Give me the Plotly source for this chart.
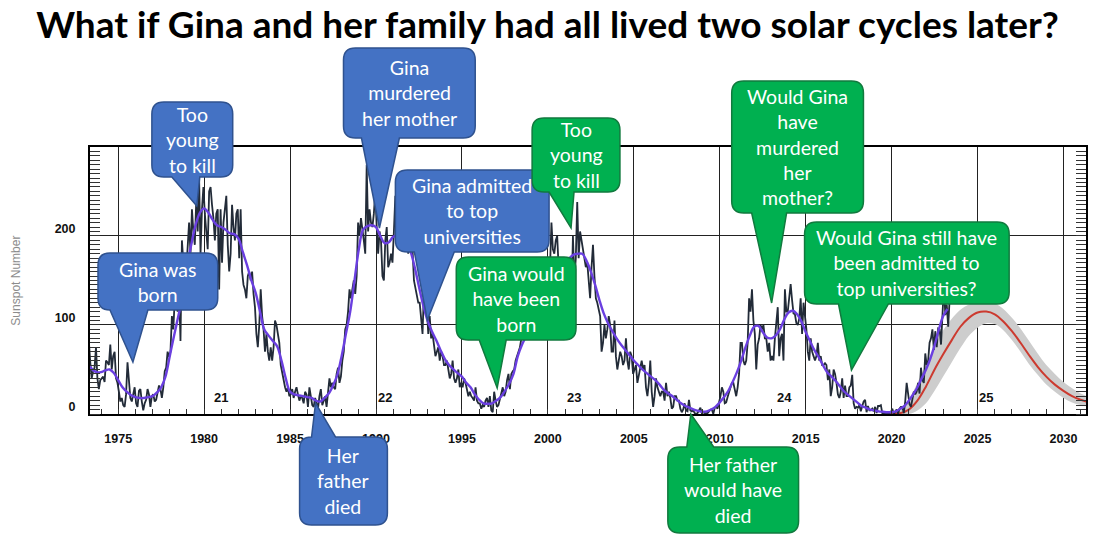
import plotly.graph_objects as go

# ---------------- data ----------------
monthly_start_year = 1973
monthly_ssn = [
    63, 68, 55, 82, 58, 40, 48, 52, 75, 40, 28, 38,        # 1973
    40, 42, 36, 60, 58, 55, 78, 50, 65, 70, 40, 35,        # 1974
    25, 14, 18, 10, 8, 22, 58, 32, 18, 14, 22, 30,         # 1975
    12, 8, 26, 28, 14, 4, 12, 16, 28, 22, 8, 20,           # 1976
    22, 14, 16, 26, 32, 28, 18, 30, 48, 52, 70, 64,        # 1977
    70, 110, 95, 130, 125, 115, 140, 82, 195, 170, 150, 160,   # 1978
    190, 215, 180, 230, 205, 190, 240, 205, 265, 180, 230, 255,  # 1979
    225, 205, 185, 250, 255, 235, 220, 195, 225, 230, 140, 230,  # 1980
    170, 215, 235, 245, 190, 160, 180, 235, 210, 195, 225, 230,  # 1981
    175, 230, 160, 145, 140, 130, 155, 160, 150, 160, 135, 120,  # 1982
    90, 75, 100, 140, 110, 95, 70, 90, 70, 60, 75, 60,     # 1983
    75, 105, 100, 90, 80, 55, 45, 40, 30, 25, 30, 20,      # 1984
    22, 28, 18, 25, 30, 22, 15, 20, 18, 12, 25, 22,        # 1985
    8, 30, 18, 10, 8, 18, 12, 6, 20, 28, 10, 15,           # 1986
    20, 8, 25, 40, 30, 35, 30, 28, 45, 52, 35, 42,         # 1987
    60, 70, 95, 100, 115, 140, 130, 140, 150, 135, 155, 215,   # 1988
    200, 220, 210, 195, 180, 280, 205, 230, 215, 210, 225, 250,  # 1989
    210, 180, 205, 195, 155, 150, 195, 210, 165, 170, 180, 170,  # 1990
    205, 245, 210, 195, 185, 240, 220, 200, 205, 215, 180, 200,  # 1991
    190, 185, 150, 140, 135, 125, 125, 110, 90, 140, 125, 120,   # 1992
    90, 110, 85, 90, 75, 65, 70, 75, 60, 70, 65, 55,       # 1993
    55, 60, 50, 40, 45, 60, 40, 35, 40, 50, 30, 35,        # 1994
    30, 40, 35, 25, 20, 25, 20, 18, 15, 30, 15, 12,        # 1995
    12, 6, 10, 8, 15, 18, 8, 20, 4, 2, 25, 15,             # 1996
    8, 10, 18, 25, 30, 20, 25, 38, 45, 28, 45, 48,         # 1997
    50, 60, 65, 70, 75, 85, 100, 130, 115, 95, 110, 120,   # 1998
    120, 145, 110, 95, 135, 165, 150, 145, 130, 150, 155, 130,   # 1999
    140, 165, 215, 185, 180, 195, 200, 165, 160, 165, 150, 160,  # 2000
    145, 120, 165, 160, 125, 200, 150, 175, 238, 175, 205, 195,  # 2001
    190, 175, 165, 170, 150, 130, 165, 190, 155, 130, 125, 115,  # 2002
    110, 70, 80, 100, 85, 95, 110, 100, 70, 70, 105, 65,   # 2003
    50, 60, 70, 65, 55, 60, 85, 60, 50, 70, 65, 45,        # 2004
    50, 55, 35, 45, 55, 60, 50, 55, 30, 20, 35, 60,        # 2005
    25, 8, 20, 40, 30, 25, 20, 25, 25, 15, 35, 20,         # 2006
    25, 18, 6, 8, 20, 20, 15, 15, 6, 2, 5, 12,             # 2007
    4, 3, 16, 4, 3, 4, 1, 0, 1, 4, 7, 1,                   # 2008
    2, 1, 1, 1, 3, 5, 5, 0, 7, 8, 6, 12,                   # 2009
    20, 30, 25, 12, 13, 19, 25, 30, 35, 35, 25, 20,        # 2010
    30, 45, 80, 80, 60, 55, 60, 80, 130, 115, 140, 105,    # 2011
    90, 50, 78, 85, 100, 95, 100, 85, 85, 70, 80, 60,      # 2012
    65, 60, 85, 105, 120, 65, 85, 90, 60, 140, 115, 115,   # 2013
    130, 146, 128, 113, 112, 102, 100, 107, 130, 90, 125, 110,   # 2014
    95, 70, 60, 85, 70, 65, 60, 65, 80, 60, 65, 55,        # 2015
    55, 57, 55, 38, 50, 20, 30, 50, 45, 35, 22, 18,        # 2016
    25, 40, 18, 32, 20, 20, 30, 32, 44, 12, 6, 8,          # 2017
    7, 10, 3, 9, 14, 16, 2, 9, 4, 4, 6, 3,                 # 2018
    8, 1, 9, 9, 10, 1, 1, 0, 1, 0, 1, 2,                   # 2019
    6, 0, 2, 5, 0, 6, 8, 8, 1, 14, 35, 22,                 # 2020
    11, 8, 18, 25, 22, 25, 35, 23, 52, 38, 35, 68,         # 2021
    55, 60, 80, 85, 95, 72, 93, 75, 96, 95, 78, 113,       # 2022
    144, 111, 123, 98, 137, 160,                           # 2023
]

smoothed_start_year = 1973.0   # quarterly values
smoothed_ssn = [
    62, 56, 50, 47,      # 1973
    47, 49, 50, 46,      # 1974
    38, 30, 25, 21,      # 1975
    19, 18, 18, 19,      # 1976
    20, 24, 30, 42,      # 1977
    65, 88, 110, 132,    # 1978
    165, 190, 212, 226,  # 1979
    231, 226, 218, 212,  # 1980
    210, 207, 203, 202,  # 1981
    197, 182, 167, 150,  # 1982
    136, 115, 95, 88,    # 1983
    82, 76, 60, 40,      # 1984
    25, 22, 21, 20,      # 1985
    19, 18, 15, 14,      # 1986
    18, 23, 32, 44,      # 1987
    65, 90, 115, 150,    # 1988
    185, 207, 211, 212,  # 1989
    210, 200, 192, 193,  # 1990
    199, 200, 196, 192,  # 1991
    183, 165, 143, 122,  # 1992
    105, 93, 83, 72,     # 1993
    62, 55, 50, 46,      # 1994
    42, 35, 30, 22,      # 1995
    16, 12, 11.5, 12,    # 1996
    15, 19, 26, 34,      # 1997
    45, 65, 78, 88,      # 1998
    100, 112, 125, 140,  # 1999
    155, 168, 174, 172,  # 2000
    170, 175, 179, 180,  # 2001
    180, 172, 160, 145,  # 2002
    128, 113, 102, 93,   # 2003
    85, 78, 72, 66,      # 2004
    60, 55, 50, 46,      # 2005
    42, 38, 33, 27,      # 2006
    23, 20, 16, 12,      # 2007
    9, 7, 5, 3.5,        # 2008
    2.5, 3, 5, 8,        # 2009
    13, 19, 26, 36,      # 2010
    47, 60, 75, 88,      # 2011
    98, 99, 92, 86,      # 2012
    85, 88, 95, 106,     # 2013
    114, 116, 112, 104,  # 2014
    92, 82, 72, 64,      # 2015
    55, 47, 42, 37,      # 2016
    31, 25, 21, 17,      # 2017
    13, 9, 7, 5,         # 2018
    4, 3, 2.5, 2,        # 2019
    2, 3, 6, 9,          # 2020
    15, 22, 30, 40,      # 2021
    50, 62, 77, 95,      # 2022
    110, 118,            # 2023
]

pred_years = [2019.9, 2020.5, 2021.0, 2021.5, 2022.0, 2022.5, 2023.0, 2023.5,
              2024.0, 2024.5, 2025.0, 2025.5, 2026.0, 2026.5, 2027.0, 2027.5,
              2028.0, 2028.5, 2029.0, 2029.5, 2030.0, 2030.5, 2031.0, 2031.5]
pred_mid = [0, 1, 5, 15, 31, 50, 67, 83, 98, 108, 114, 115,
            112, 104, 93, 80, 66, 53, 42, 33, 26, 20, 16, 13]
pred_high = [0, 6, 16, 35, 55, 76, 94, 107, 117, 123, 126, 126,
             124, 118, 108, 96, 82, 68, 55, 45, 36, 29, 23, 19]
pred_low = [0, 0, 0, 4, 12, 26, 42, 58, 74, 88, 97, 102,
            101, 94, 83, 70, 56, 44, 33, 25, 18, 13, 10, 8]

cycle_labels = ["21", "22", "23", "24", "25"]
cycle_label_years = [1981.0, 1990.55, 2001.5, 2013.75, 2025.5]
cycle_label_value = 19

x_tick_years = [1975, 1980, 1985, 1990, 1995, 2000, 2005, 2010, 2015, 2020, 2025, 2030]
y_tick_values = [0, 100, 200]

title_text = "What if Gina and her family had all lived two solar cycles later?"

# ---------------- layout geometry ----------------
W, H = 1095, 547
PL, PR, PT, PB = 90, 1088, 147, 414   # plot area in pixels


def X(px):
    return (px - PL) / (PR - PL)


def Y(py):
    return (PB - py) / (PB - PT)


BLUE, BLUE_EDGE = "#4472C4", "#2F528F"
GREEN, GREEN_EDGE = "#00B050", "#117A3E"

# text, fill, edge, box (x0,y0,x1,y1), tail side, tail base (b0,b1), tip (tx,ty)
callouts = [
    ("Too<br>young<br>to kill", BLUE, BLUE_EDGE, (152, 102, 233, 177), "bottom", (172, 200), (197, 206)),
    ("Gina was<br>born", BLUE, BLUE_EDGE, (98, 253, 218, 310), "bottom", (110, 148), (133, 362)),
    ("Gina<br>murdered<br>her mother", BLUE, BLUE_EDGE, (344, 48, 476, 138), "bottom", (362, 400), (380, 228)),
    ("Gina admitted<br>to top<br>universities", BLUE, BLUE_EDGE, (396, 170, 550, 252), "bottom", (415, 455), (428, 320)),
    ("Her<br>father<br>died", BLUE, BLUE_EDGE, (300, 437, 388, 525), "top", (312, 336), (316, 403)),
    ("Gina would<br>have been<br>born", GREEN, GREEN_EDGE, (457, 257, 577, 340), "bottom", (480, 507), (498, 388)),
    ("Too<br>young<br>to kill", GREEN, GREEN_EDGE, (533, 118, 621, 192), "bottom", (550, 575), (572, 228)),
    ("Would Gina<br>have<br>murdered<br>her<br>mother?", GREEN, GREEN_EDGE, (733, 81, 865, 213), "bottom", (753, 788), (773, 303)),
    ("Would Gina still have<br>been admitted to<br>top universities?", GREEN, GREEN_EDGE, (806, 222, 1011, 304), "bottom", (840, 890), (853, 370)),
    ("Her father<br>would have<br>died", GREEN, GREEN_EDGE, (669, 447, 800, 533), "top", (688, 715), (692, 414)),
]


def callout_path(box, side, base, tip, r=12):
    x0, y0, x1, y1 = box
    b0, b1 = base
    tx, ty = tip

    def P(x, y):
        return f"{X(x):.5f},{Y(y):.5f}"

    p = f"M {P(x0 + r, y0)}"
    if side == "top":
        p += f" L {P(b0, y0)} L {P(tx, ty)} L {P(b1, y0)}"
    p += f" L {P(x1 - r, y0)} Q {P(x1, y0)} {P(x1, y0 + r)}"
    p += f" L {P(x1, y1 - r)} Q {P(x1, y1)} {P(x1 - r, y1)}"
    if side == "bottom":
        p += f" L {P(b1, y1)} L {P(tx, ty)} L {P(b0, y1)}"
    p += f" L {P(x0 + r, y1)} Q {P(x0, y1)} {P(x0, y1 - r)}"
    p += f" L {P(x0, y0 + r)} Q {P(x0, y0)} {P(x0 + r, y0)} Z"
    return p


# ---------------- figure ----------------
monthly_t = [monthly_start_year + (i + 0.5) / 12 for i in range(len(monthly_ssn))]
smoothed_t = [smoothed_start_year + i * 0.25 for i in range(len(smoothed_ssn))]

fig = go.Figure()

fig.add_trace(go.Scatter(x=pred_years, y=pred_high, mode="lines", line_shape="spline",
                         line=dict(color="rgba(0,0,0,0)", width=0), hoverinfo="skip",
                         showlegend=False))
fig.add_trace(go.Scatter(x=pred_years, y=pred_low, mode="lines", fill="tonexty", line_shape="spline",
                         fillcolor="#cdcdcd", line=dict(color="rgba(0,0,0,0)", width=0),
                         hoverinfo="skip", showlegend=False))
fig.add_trace(go.Scatter(x=pred_years, y=pred_mid, mode="lines", line_shape="spline",
                         line=dict(color="#cc3a2f", width=2), showlegend=False))
fig.add_trace(go.Scatter(x=monthly_t, y=monthly_ssn, mode="lines",
                         line=dict(color="#222b38", width=1.8), showlegend=False))
fig.add_trace(go.Scatter(x=smoothed_t, y=smoothed_ssn, mode="lines", line_shape="spline",
                         line=dict(color="#6a3fe0", width=2.4), showlegend=False))

shapes = []
annotations = []
for text, fill, edge, box, side, base, tip in callouts:
    shapes.append(dict(type="path", xref="paper", yref="paper",
                       path=callout_path(box, side, base, tip),
                       fillcolor=fill, line=dict(color=edge, width=1.5), layer="above"))
    cx = (box[0] + box[2]) / 2
    cy = (box[1] + box[3]) / 2
    annotations.append(dict(xref="paper", yref="paper", x=X(cx), y=Y(cy),
                            xanchor="center", yanchor="middle", text=text, showarrow=False,
                            font=dict(family="Lato", size=19.5, color="white"), align="center"))

for lab, yr in zip(cycle_labels, cycle_label_years):
    annotations.append(dict(xref="x", yref="y", x=yr, y=cycle_label_value, text=lab,
                            showarrow=False, xanchor="center", yanchor="middle",
                            font=dict(family="Arial", size=13, color="#111", weight="bold")))

annotations.append(dict(xref="paper", yref="paper", x=X(15), y=0.5, text="Sunspot Number",
                        textangle=-90, showarrow=False, xanchor="center", yanchor="middle",
                        font=dict(family="Arial", size=12, color="#8c8c8c")))

fig.update_layout(
    width=W, height=H,
    margin=dict(l=PL, r=W - PR, t=PT, b=H - PB, pad=0),
    paper_bgcolor="white", plot_bgcolor="white",
    title=dict(text=title_text, x=0.5, xanchor="center", y=1 - 25 / H, yanchor="middle",
               yref="container",
               font=dict(family="Lato", size=37, color="black", weight="bold")),
    shapes=shapes, annotations=annotations,
    xaxis=dict(range=[1973.36, 2031.31], tickmode="array", tickvals=x_tick_years,
               ticktext=[str(v) for v in x_tick_years],
               showgrid=True, gridcolor="#222", gridwidth=1.3, zeroline=False,
               showline=True, linecolor="black", linewidth=2, mirror=True, ticks="",
               ticklabelstandoff=12,
               minor=dict(tickmode="linear", tick0=1973, dtick=1, ticks="inside", ticklen=5,
                          tickcolor="#333", tickwidth=1, showgrid=False),
               tickfont=dict(family="Arial", size=12.5, color="#111", weight="bold")),
    yaxis=dict(range=[0, 299.9], tickmode="array", tickvals=y_tick_values,
               showgrid=True, gridcolor="#222", gridwidth=1.3, zeroline=False,
               showline=True, linecolor="black", linewidth=2, mirror="allticks", ticks="",
               ticklabelstandoff=10, ticklabelshift=-7,
               minor=dict(tickmode="linear", tick0=0, dtick=5, ticks="inside", ticklen=10,
                          tickcolor="#333", tickwidth=1, showgrid=False),
               tickfont=dict(family="Arial", size=12.5, color="#111", weight="bold")),
)

fig.write_html("out.html", config={"displayModeBar": False},
               post_script="document.body.style.margin='0';")
